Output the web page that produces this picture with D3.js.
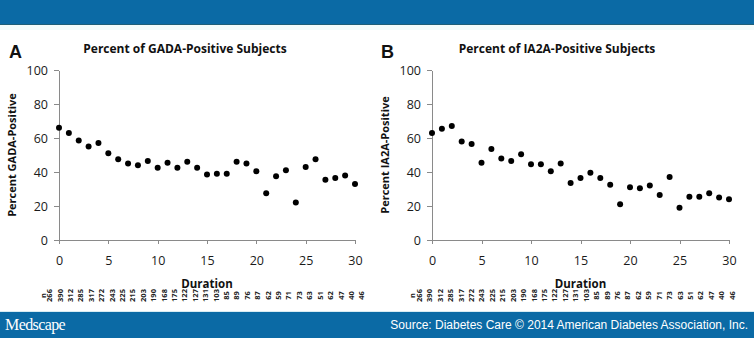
<!DOCTYPE html>
<html lang="en">
  <head>
    <meta charset="UTF-8" />
    <title>GADA and IA2A Positivity by Duration</title>
    <script src="https://d3js.org/d3.v7.min.js"></script>
    <style>
      body {
        margin: 0;
        background: #ffffff;
      }
      svg {
        display: block;
      }
      .axis path,
      .axis line {
        stroke: #8a8a8a;
        shape-rendering: crispEdges;
      }
      .axis text {
        font-family: "Open Sans", sans-serif;
        font-size: 12.5px;
        fill: #1a1a1a;
      }
    </style>
  </head>
  <body>
    <svg id="chart" width="754" height="338"></svg>

    <script>
      // duration since diagnosis, years
      const durations = [
        0, 1, 2, 3, 4, 5, 6, 7, 8, 9, 10, 11, 12, 13, 14, 15, 16, 17, 18, 19,
        20, 21, 22, 23, 24, 25, 26, 27, 28, 29, 30,
      ];

      // subjects per duration year
      const nCounts = [
        266, 390, 312, 285, 317, 272, 243, 225, 215, 203, 190, 168, 175, 122,
        127, 131, 103, 85, 89, 76, 87, 62, 59, 71, 73, 63, 51, 62, 47, 40, 46,
      ];

      const gadaPct = [
        66, 63, 58.5, 55, 57, 51, 47.5, 45, 44, 46.5, 42.5, 45.5, 42.5, 46,
        42.5, 38.5, 39, 39, 46, 45, 40.5, 27.5, 37.5, 41, 22, 43, 47.5, 35.5,
        36.5, 38, 33,
      ];

      const ia2aPct = [
        63, 65.5, 67, 58, 56.5, 45.5, 53.5, 48, 46.5, 50.5, 44.5, 44.5, 40.5,
        45, 33.5, 36.5, 39.5, 36.5, 32.5, 21, 31, 30.5, 32, 26.5, 37, 19, 25.5,
        25.5, 27.5, 25, 24,
      ];

      const xTicks = [0, 5, 10, 15, 20, 25, 30];
      const yTicks = [0, 20, 40, 60, 80, 100];

      const svg = d3.select("#chart");

      // header and footer bands
      svg.append("rect").attr("x", 0).attr("y", 0).attr("width", 754).attr("height", 24).attr("fill", "#0b6aa5");
      svg.append("rect").attr("x", 0).attr("y", 24).attr("width", 754).attr("height", 1).attr("fill", "#1f5f78");
      svg.append("rect").attr("x", 0).attr("y", 25).attr("width", 754).attr("height", 5).attr("fill", "#f4fcfb");
      svg.append("rect").attr("x", 0).attr("y", 312).attr("width", 754).attr("height", 26).attr("fill", "#0b6aa5");
      svg.append("rect").attr("x", 0).attr("y", 311).attr("width", 754).attr("height", 1).attr("fill", "#d8ecf2");

      svg
        .append("text")
        .attr("x", 5)
        .attr("y", 330)
        .attr("font-family", "Liberation Serif, serif")
        .attr("font-size", 16)
        .attr("letter-spacing", -0.6)
        .attr("fill", "#ffffff")
        .text("Medscape");

      svg
        .append("text")
        .attr("x", 748)
        .attr("y", 329)
        .attr("text-anchor", "end")
        .attr("font-family", "Liberation Sans, Arial, sans-serif")
        .attr("font-size", 12)
        .attr("fill", "#ffffff")
        .text("Source: Diabetes Care \u00a9 2014 American Diabetes Association, Inc.");

      function drawPanel(cfg) {
        const x = d3.scaleLinear().domain([0, 30]).range([cfg.x0, cfg.x1]);
        const y = d3.scaleLinear().domain([0, 100]).range([240, 70]);
        const nx = d3.scaleLinear().domain([0, 30]).range([cfg.n0, cfg.n1]);

        const g = svg.append("g");

        g.append("text")
          .attr("x", cfg.letterX)
          .attr("y", 58)
          .attr("font-family", "Liberation Sans, Arial, sans-serif")
          .attr("font-weight", "bold")
          .attr("font-size", 18)
          .attr("fill", "#111")
          .text(cfg.letter);

        g.append("text")
          .attr("x", cfg.titleX)
          .attr("y", 53)
          .attr("text-anchor", "middle")
          .attr("font-family", "Open Sans, sans-serif")
          .attr("font-weight", "bold")
          .attr("font-size", 12)
          .attr("fill", "#111")
          .text(cfg.title);

        g.append("text")
          .attr("transform", `translate(${cfg.yLabelX},155) rotate(-90)`)
          .attr("text-anchor", "middle")
          .attr("font-family", "Open Sans, sans-serif")
          .attr("font-weight", "bold")
          .attr("font-size", 11)
          .attr("fill", "#111")
          .text(cfg.yLabel);

        g.append("g")
          .attr("class", "axis")
          .attr("transform", `translate(${cfg.x0},0)`)
          .call(d3.axisLeft(y).tickValues(yTicks).tickSize(5).tickPadding(6).tickSizeOuter(0));

        const xAxis = g
          .append("g")
          .attr("class", "axis")
          .attr("transform", "translate(0,240)")
          .call(d3.axisBottom(x).tickValues(xTicks).tickSize(4).tickPadding(12).tickSizeOuter(0));
        xAxis.selectAll("text").attr("dy", "0.71em");

        g.append("text")
          .attr("x", (cfg.x0 + cfg.x1) / 2)
          .attr("y", 288)
          .attr("text-anchor", "middle")
          .attr("font-family", "Open Sans, sans-serif")
          .attr("font-weight", "bold")
          .attr("font-size", 11.5)
          .attr("fill", "#111")
          .text("Duration");

        g.selectAll(".dot")
          .data(cfg.values)
          .join("circle")
          .attr("class", "dot")
          .attr("cx", (d, i) => x(durations[i]))
          .attr("cy", (d) => y(d))
          .attr("r", 3)
          .attr("fill", "#000");

        // subject counts row under the axis
        g.append("text")
          .attr("transform", `translate(${cfg.n0 - 6.5},295.5) rotate(-90)`)
          .attr("text-anchor", "middle")
          .attr("dy", "0.35em")
          .attr("font-family", "Open Sans, sans-serif")
          .attr("font-weight", "bold")
          .attr("font-size", 7.5)
          .attr("fill", "#222")
          .text("n");

        g.selectAll(".ncount")
          .data(nCounts)
          .join("text")
          .attr("class", "ncount")
          .attr("transform", (d, i) => `translate(${nx(durations[i])},295.5) rotate(-90)`)
          .attr("text-anchor", "middle")
          .attr("dy", "0.35em")
          .attr("font-family", "Open Sans, sans-serif")
          .attr("font-weight", "bold")
          .attr("font-size", 7.5)
          .attr("fill", "#222")
          .text((d) => d);
      }

      drawPanel({
        letter: "A",
        letterX: 9,
        title: "Percent of GADA-Positive Subjects",
        titleX: 185,
        yLabel: "Percent GADA-Positive",
        yLabelX: 16,
        x0: 59,
        x1: 355,
        n0: 49.5,
        n1: 361.7,
        values: gadaPct,
      });

      drawPanel({
        letter: "B",
        letterX: 381,
        title: "Percent of IA2A-Positive Subjects",
        titleX: 557,
        yLabel: "Percent IA2A-Positive",
        yLabelX: 389,
        x0: 432,
        x1: 729,
        n0: 419.3,
        n1: 732,
        values: ia2aPct,
      });
    </script>
  </body>
</html>
